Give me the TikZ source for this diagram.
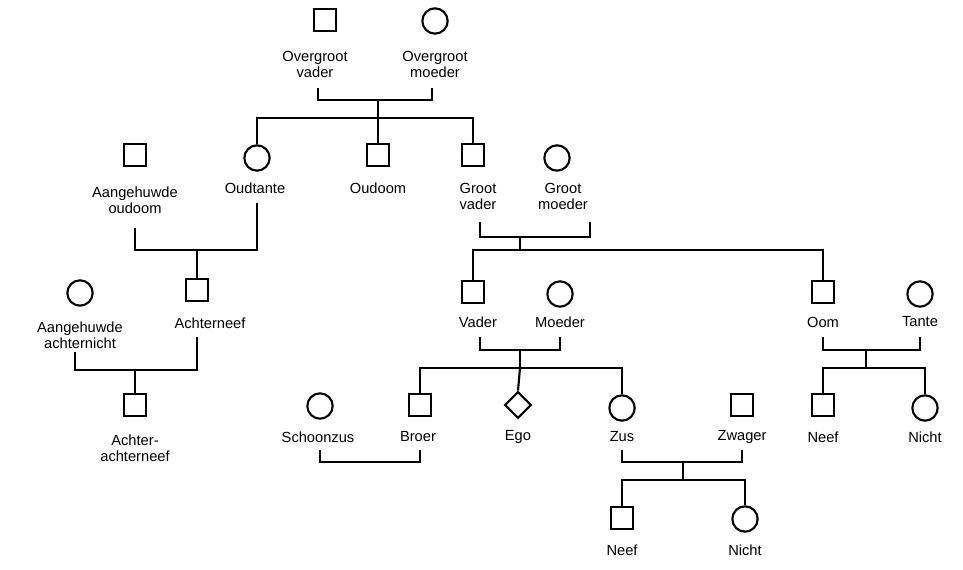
\documentclass[tikz,border=0pt]{standalone}
\usepackage{fontspec}
\setmainfont{Liberation Sans}
\usetikzlibrary{shapes.geometric}
\begin{document}
\begin{tikzpicture}[x=0.75pt,y=-0.75pt,
  m/.style={draw,line width=1.6pt,minimum size=17pt,inner sep=0pt},
  f/.style={draw,circle,line width=1.6pt,minimum size=19pt,inner sep=0pt},
  e/.style={draw,diamond,line width=1.6pt,minimum size=20pt,inner sep=0pt},
  lab/.style={align=center,font=\fontsize{11}{12}\selectfont,inner sep=0pt},
  ln/.style={line width=1.6pt}]
\useasboundingbox (0,0) rectangle (963,570);
% nodes
\node[m] (ogv) at (325,20) {}; \node[lab] (tOgv) at (315,64) {Overgroot\\vader};
\node[f] (ogm) at (435,21) {}; \node[lab] (tOgm) at (435,64) {Overgroot\\moeder};
\node[f] (otante) at (257,158) {}; \node[lab] (tOtante) at (255,188) {Oudtante};
\node[m] (oudoom) at (378,155) {}; \node[lab] (tOudoom) at (378,188) {Oudoom};
\node[m] (gv) at (473,155) {}; \node[lab] (tGv) at (478,196) {Groot\\vader};
\node[f] (gm) at (557,158) {}; \node[lab] (tGm) at (563,196) {Groot\\moeder};
\node[m] (aoo) at (135,155) {}; \node[lab] (tAoo) at (135,200) {Aangehuwde\\oudoom};
\node[m] (an) at (197,290) {}; \node[lab] (tAn) at (210,323) {Achterneef};
\node[f] (aan) at (80,293) {}; \node[lab] (tAan) at (80,335) {Aangehuwde\\achternicht};
\node[m] (aan2) at (135,405) {}; \node[lab] (tAan2) at (135,448) {Achter-\\achterneef};
\node[m] (vader) at (473,292) {}; \node[lab] (tVader) at (478,322) {Vader};
\node[f] (moeder) at (560,294) {}; \node[lab] (tMoeder) at (560,322) {Moeder};
\node[m] (oom) at (823,292) {}; \node[lab] (tOom) at (823,322) {Oom};
\node[f] (tante) at (920,294) {}; \node[lab] (tTante) at (920,322) {Tante};
\node[f] (sz) at (320,406) {}; \node[lab] (tSz) at (318,437) {Schoonzus};
\node[m] (broer) at (420,405) {}; \node[lab] (tBroer) at (418,437) {Broer};
\node[e] (ego) at (518,405) {}; \node[lab] (tEgo) at (518,437) {Ego};
\node[f] (zus) at (622,408) {}; \node[lab] (tZus) at (622,437) {Zus};
\node[m] (zw) at (742,405) {}; \node[lab] (tZw) at (742,437) {Zwager};
\node[m] (neef1) at (622,518) {}; \node[lab] (tNeef1) at (622,550) {Neef};
\node[f] (nicht1) at (745,519) {}; \node[lab] (tNicht1) at (745,550) {Nicht};
\node[m] (neef2) at (823,405) {}; \node[lab] (tNeef2) at (823,437) {Neef};
\node[f] (nicht2) at (925,408) {}; \node[lab] (tNicht2) at (925,437) {Nicht};
% lines
\draw[ln] (318,88) -- (318,100) -- (432,100) -- (432,88);
\draw[ln] (378,100) -- (378,118);
\draw[ln] (otante.north) -- (257,118) -- (473,118) -- (gv.north);
\draw[ln] (oudoom.north) -- (378,118);
\draw[ln] (135,228) -- (135,250) -- (257,250) -- (257,203);
\draw[ln] (197,250) -- (an.north);
\draw[ln] (75,352) -- (75,370) -- (197,370) -- (197,337);
\draw[ln] (135,370) -- (aan2.north);
\draw[ln] (480,222) -- (480,237) -- (590,237) -- (590,222);
\draw[ln] (520,237) -- (520,250);
\draw[ln] (vader.north) -- (473,250) -- (823,250) -- (oom.north);
\draw[ln] (480,337) -- (480,350) -- (560,350) -- (560,337);
\draw[ln] (520,350) -- (520,368);
\draw[ln] (broer.north) -- (420,368) -- (622,368) -- (zus.north);
\draw[ln] (520,368) -- (ego.north);
\draw[ln] (320,450) -- (320,462) -- (420,462) -- (420,450);
\draw[ln] (622,450) -- (622,462) -- (742,462) -- (742,450);
\draw[ln] (683,462) -- (683,480);
\draw[ln] (neef1.north) -- (622,480) -- (745,480) -- (nicht1.north);
\draw[ln] (823,337) -- (823,350) -- (920,350) -- (920,337);
\draw[ln] (866,350) -- (866,368);
\draw[ln] (neef2.north) -- (823,368) -- (925,368) -- (nicht2.north);
\end{tikzpicture}
\end{document}
